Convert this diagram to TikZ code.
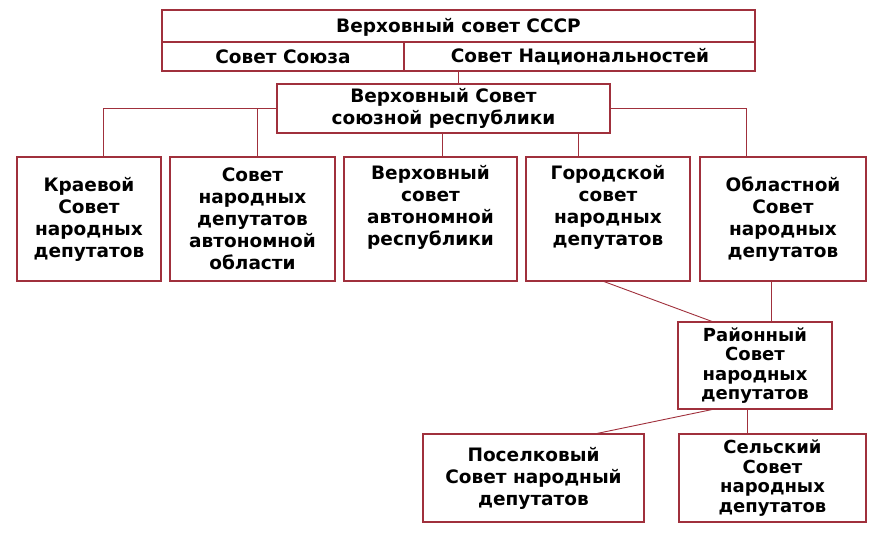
\documentclass[tikz,border=0pt]{standalone}
\usepackage{fontspec}
\setmainfont{DejaVu Sans}
\begin{document}
\begin{tikzpicture}[x=1pt,y=-1pt,
  box/.style={draw=bcol,line width=1.1pt,inner sep=0pt,align=center,font=\fontsize{18.5}{22}\selectfont\bfseries},
  tight/.style={font=\fontsize{18}{19.5}\selectfont\bfseries},
  con/.style={draw=bcol,line width=0.9pt}]
\definecolor{bcol}{HTML}{A0303C}
\useasboundingbox[fill=white] (0,0) rectangle (890,533);
% top box
\node[box,minimum width=593,minimum height=61] (top) at (458.5,40.5) {};
\draw[con,line width=1.1pt] (162,42) -- (755,42) (404,42) -- (404,71);
\node[box,draw=none] (t1) at (458.5,27) {Верховный совет СССР};
\node[box,draw=none] (t2) at (283,57) {Совет Союза};
\node[box,draw=none] (t3) at (580,57) {Совет Национальностей};
% second
\node[box,minimum width=333,minimum height=49] (s2) at (443.5,108.5) {Верховный Совет\\союзной республики};
% row 3
\node[box,minimum width=144,minimum height=124] (b1) at (89,219) {Краевой\\Совет\\народных\\депутатов};
\node[box,minimum width=165,minimum height=124] (b2) at (252.5,219) {Совет\\народных\\депутатов\\автономной\\области};
\node[box,minimum width=173,minimum height=124] (b3) at (430.5,219) {};
\node[box,draw=none,anchor=north] (b3t) at ([yshift=-8]b3.north) {Верховный\\совет\\автономной\\республики};
\node[box,minimum width=164,minimum height=124] (b4) at (608,219) {};
\node[box,draw=none,anchor=north] (b4t) at ([yshift=-8]b4.north) {Городской\\совет\\народных\\депутатов};
\node[box,minimum width=166,minimum height=124] (b5) at (783,219) {Областной\\Совет\\народных\\депутатов};
% raion
\node[box,tight,minimum width=154,minimum height=87] (r) at (755,365.5) {Районный\\Совет\\народных\\депутатов};
\node[box,minimum width=221,minimum height=88] (p) at (533.5,478) {Поселковый\\Совет народный\\депутатов};
\node[box,tight,minimum width=187,minimum height=88] (c) at (772.5,478) {Сельский\\Совет\\народных\\депутатов};
% connectors
\draw[con] (top.south) -- (top.south |- s2.north);
\draw[con] (s2.west) -| ([xshift=14]b1.north);
\draw[con] ([xshift=4.5]b2.north |- s2.west) -- ([xshift=4.5]b2.north);
\draw[con] ([xshift=11.5]b3.north |- s2.south) -- ([xshift=11.5]b3.north);
\draw[con] ([xshift=-30]b4.north |- s2.south) -- ([xshift=-30]b4.north);
\draw[con] (s2.east) -| ([xshift=-37]b5.north);
\draw[con] ([xshift=-4]b4.south) -- ([xshift=-43]r.north);
\draw[con] ([xshift=16]r.north |- b5.south) -- ([xshift=16]r.north);
\draw[con] ([xshift=-43]r.south) -- ([xshift=63.5]p.north);
\draw[con] ([xshift=-8]r.south) -- ([xshift=-8]r.south |- c.north);
\end{tikzpicture}
\end{document}
